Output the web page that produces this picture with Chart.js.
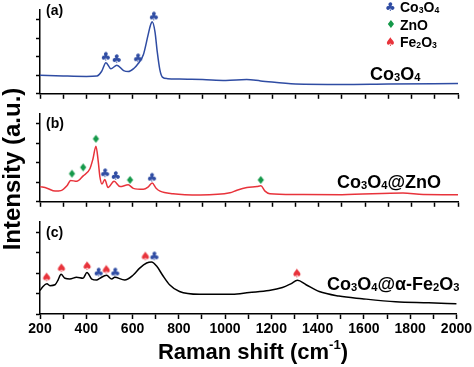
<!DOCTYPE html>
<html>
<head>
<meta charset="utf-8">
<script src="https://cdn.jsdelivr.net/npm/chart.js@4.4.1/dist/chart.umd.min.js"></script>
<style>
  body { margin: 0; background: #fff; width: 474px; height: 367px; position: relative; overflow: hidden;
         font-family: "Liberation Sans", Arial, sans-serif; font-weight: bold; color: #000; }
  canvas { position: absolute; left: 0; }
  .lab { position: absolute; white-space: nowrap; line-height: 1; }
  .s { font-size: 62%; position: relative; top: 0.12em; }
  .sym { position: absolute; font-family: "DejaVu Sans"; }
</style>
</head>
<body>
<canvas id="ca" width="474" height="104" style="top:0"></canvas>
<canvas id="cb" width="474" height="108" style="top:104px"></canvas>
<canvas id="cc" width="474" height="130" style="top:212px"></canvas>

<div class="lab" style="left:46px;top:3px;font-size:14px">(a)</div>
<div class="lab" style="left:46px;top:116px;font-size:14px">(b)</div>
<div class="lab" style="left:46px;top:225px;font-size:14px">(c)</div>

<div class="lab" style="left:370px;top:65px;font-size:18px">Co<span class="s">3</span>O<span class="s">4</span></div>
<div class="lab" style="left:337px;top:173px;font-size:18px">Co<span class="s">3</span>O<span class="s">4</span>@ZnO</div>
<div class="lab" style="left:327px;top:275px;font-size:18px">Co<span class="s">3</span>O<span class="s">4</span>@α-Fe<span class="s">2</span>O<span class="s">3</span></div>

<div class="lab" style="left:400px;top:0px;font-size:14px"><span class="sym" style="left:-15px;top:1px;font-size:12px;color:#2f4ca3">♣</span>Co<span class="s">3</span>O<span class="s">4</span></div>
<div class="lab" style="left:400px;top:18px;font-size:14px"><span class="sym" style="left:-14px;top:1px;font-size:11px;color:#15994a">♦</span>ZnO</div>
<div class="lab" style="left:400px;top:35px;font-size:14px"><span class="sym" style="left:-15px;top:1px;font-size:12px;color:#e8333b">♠</span>Fe<span class="s">2</span>O<span class="s">3</span></div>

<div class="lab" style="left:12px;top:169px;font-size:24px;transform:translate(-50%,-50%) rotate(-90deg)">Intensity (a.u.)</div>
<div class="lab" style="left:253px;top:341px;font-size:22px;transform:translateX(-50%)">Raman shift (cm<span style="font-size:60%;position:relative;top:-0.75em">-1</span>)</div>

<script>
// Raman shift (cm-1) and intensity for each sample
const shiftA = [200, 300, 400, 445, 465, 484, 505, 531, 560, 580, 605, 623, 645, 666, 676, 683, 695, 705, 716, 727, 750, 800, 900, 1000, 1090, 1150, 1300, 1500, 1700, 2000];
const co3o4 = [2.0, 1.92, 1.87, 1.92, 2.4, 3.35, 2.7, 3.07, 2.5, 2.39, 2.75, 3.26, 4.2, 6.4, 7.4, 7.76, 6.7, 4.5, 2.6, 1.8, 1.63, 1.58, 1.53, 1.44, 1.53, 1.39, 1.05, 1.0, 1.05, 1.1];

const shiftB = [200, 230, 265, 290, 316, 332, 358, 386, 415, 428, 441, 451, 458, 467, 479, 493, 519, 545, 580, 602, 645, 665, 683, 700, 717, 773, 890, 1018, 1048, 1091, 1134, 1151, 1169, 1190, 1300, 1500, 1763, 1850, 2000];
const co3o4Zno = [1.56, 1.4, 1.1, 1.15, 1.65, 2.2, 2.1, 2.66, 3.4, 4.4, 5.7, 4.1, 2.57, 1.83, 2.3, 1.47, 2.1, 1.56, 1.74, 1.38, 1.28, 1.5, 1.93, 1.4, 1.1, 0.83, 0.7, 0.92, 1.19, 1.47, 1.56, 1.65, 1.1, 0.83, 0.75, 0.73, 0.9, 0.75, 0.73];

const shiftC = [200, 213, 230, 243, 265, 278, 291, 308, 329, 358, 386, 403, 424, 445, 458, 488, 510, 523, 566, 602, 631, 661, 682, 704, 730, 760, 803, 889, 1031, 1104, 1190, 1248, 1284, 1313, 1350, 1407, 1492, 1592, 1737, 1880, 2000];
const co3o4Fe2o3 = [2.3, 2.7, 2.96, 2.78, 2.87, 3.33, 3.9, 3.5, 3.43, 3.6, 3.5, 4.07, 3.43, 3.33, 3.5, 3.8, 3.43, 3.6, 3.33, 3.8, 4.5, 5.0, 5.1, 4.7, 3.8, 2.87, 2.2, 1.93, 1.93, 2.1, 2.3, 2.6, 2.96, 3.3, 2.87, 2.2, 1.76, 1.5, 1.2, 1.1, 1.0];

// peak markers (position, height of the symbol)
const clubA = [[484, 4.0], [531, 3.74], [623, 3.83], [691, 8.33]];
const diamondB = [[338, 2.84], [386, 3.49], [441, 6.42], [588, 2.2], [1151, 2.2]];
const clubB = [[481, 2.94], [527, 2.66], [683, 2.48]];
const spadeC = [[229, 3.6], [293, 4.5], [404, 4.7], [487, 4.35], [656, 5.65], [1311, 3.98]];
const clubC = [[454, 4.07], [526, 4.07], [695, 5.65]];

const BLUE = "#2f4ca3", RED = "#e8333b", GREEN = "#15994a";

function glyph(ch, color, size) {
  const c = document.createElement("canvas");
  c.width = size + 2;
  c.height = size + 2;
  const g = c.getContext("2d");
  g.fillStyle = color;
  g.font = size + 'px "DejaVu Sans"';
  g.textAlign = "center";
  g.textBaseline = "middle";
  g.fillText(ch, c.width / 2, c.height / 2 + 1);
  return c;
}
const club = glyph("♣", BLUE, 12);
const spade = glyph("♠", RED, 12);
const diamond = glyph("♦", GREEN, 11);

const line = (xs, ys, color) => ({
  data: xs.map((x, i) => ({ x: x, y: ys[i] })),
  borderColor: color, borderWidth: 1.5, pointRadius: 0,
  cubicInterpolationMode: "monotone", clip: false
});
const marks = (pts, img) => ({
  type: "scatter",
  data: pts.map(p => ({ x: p[0], y: p[1] })),
  pointStyle: img, pointRadius: 5, showLine: false, clip: false
});

function panel(id, datasets, padTop, xHeight, labels) {
  return new Chart(document.getElementById(id), {
    type: "line",
    data: { datasets: datasets },
    options: {
      responsive: false,
      animation: false,
      events: [],
      layout: { padding: { top: padTop, right: 16, left: 0, bottom: 0 } },
      plugins: { legend: { display: false }, tooltip: { enabled: false } },
      scales: {
        x: {
          type: "linear", min: 200, max: 2000,
          afterFit: s => { s.height = xHeight; },
          border: { color: "#000", width: 1.5 },
          grid: { drawOnChartArea: false, tickLength: 5, tickWidth: 1.5, tickColor: "#000" },
          ticks: {
            stepSize: 100, autoSkip: false, maxRotation: 0, padding: 2, color: "#000",
            font: { family: '"Liberation Sans", Arial', size: 14, weight: "bold" },
            callback: v => (labels && v % 200 === 0) ? v : ""
          }
        },
        y: {
          min: 0, max: 9,
          afterFit: s => { s.width = 40; },
          border: { color: "#000", width: 1.5 },
          grid: { drawOnChartArea: false, tickLength: 4, tickWidth: 1.5, tickColor: "#000" },
          ticks: { stepSize: 1, callback: () => "" }
        }
      }
    }
  });
}

panel("ca", [line(shiftA, co3o4, BLUE), marks(clubA, club)], 3, 7, false);
panel("cb", [line(shiftB, co3o4Zno, RED), marks(diamondB, diamond), marks(clubB, club)], 4, 6, false);
panel("cc", [line(shiftC, co3o4Fe2o3, "#000"), marks(spadeC, spade), marks(clubC, club)], 5, 28, true);
</script>
</body>
</html>
